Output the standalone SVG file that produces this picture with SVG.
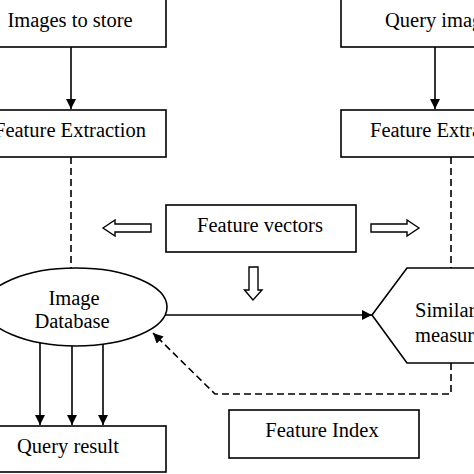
<svg xmlns="http://www.w3.org/2000/svg" width="474" height="474" viewBox="0 0 474 474">
<style>
.box{fill:#fff;stroke:#000;stroke-width:1.6}
.t{font-family:"Liberation Serif","Times New Roman",serif;font-size:20.5px;fill:#000}
.m{text-anchor:middle}
.ln{fill:none;stroke:#000;stroke-width:1.6}
.dash{fill:none;stroke:#000;stroke-width:1.6;stroke-dasharray:7 4}
.hollow{fill:#fff;stroke:#000;stroke-width:1.4;stroke-linejoin:miter}
</style>
<defs>
<marker id="ah" viewBox="0 0 10 10" refX="10" refY="5" markerWidth="10" markerHeight="10" markerUnits="userSpaceOnUse" orient="auto">
<path d="M0,0 L10,5 L0,10 Z" fill="#000"/>
</marker>
</defs>
<rect width="474" height="474" fill="#fff"/>
<g id="connectors">
<line class="ln" x1="71" y1="47" x2="71" y2="109" marker-end="url(#ah)"/>
<line class="ln" x1="435" y1="47" x2="435" y2="109" marker-end="url(#ah)"/>
<line class="dash" x1="71" y1="157" x2="71" y2="268"/>
<line class="dash" x1="451" y1="157" x2="451" y2="268"/>
<line class="ln" x1="165" y1="315" x2="372" y2="315" marker-end="url(#ah)"/>
<line class="ln" x1="40" y1="343" x2="40" y2="425" marker-end="url(#ah)"/>
<line class="ln" x1="72" y1="346" x2="72" y2="425" marker-end="url(#ah)"/>
<line class="ln" x1="103" y1="344" x2="103" y2="425" marker-end="url(#ah)"/>
<polyline class="dash" points="451,363 451,394 215,394 153,333" marker-end="url(#ah)"/>
<path class="hollow" d="M103,228 L115,220 L115,224 L151,224 L151,232 L115,232 L115,236 Z"/>
<path class="hollow" d="M419,228 L407,220 L407,224 L371,224 L371,232 L407,232 L407,236 Z"/>
<path class="hollow" d="M253,300 L244.5,290 L249,290 L249,267 L258,267 L258,290 L262,290 Z"/>
</g>
<g id="images-to-store">
<rect class="box" x="-30" y="-10" width="196" height="57"/>
<text class="t m" x="70" y="27">Images to store</text>
</g>
<g id="query-image">
<rect class="box" x="341" y="-10" width="200" height="57"/>
<text class="t" x="385" y="27">Query image</text>
</g>
<g id="feature-extraction-left">
<rect class="box" x="-30" y="110" width="196" height="47"/>
<text class="t m" x="70" y="137">Feature Extraction</text>
</g>
<g id="feature-extraction-right">
<rect class="box" x="341" y="110" width="200" height="47"/>
<text class="t" x="370" y="137">Feature Extraction</text>
</g>
<g id="feature-vectors">
<rect class="box" x="166" y="205" width="190" height="47"/>
<text class="t m" x="260" y="232">Feature vectors</text>
</g>
<g id="image-database">
<ellipse class="box" cx="76" cy="307" rx="91" ry="39"/>
<text class="t m" x="74" y="305">Image</text>
<text class="t m" x="72" y="328">Database</text>
</g>
<g id="similarity-measure">
<polygon class="box" points="372,315 407,268 490,268 490,363 407,363"/>
<text class="t" x="415" y="317">Similarity</text>
<text class="t" x="415" y="342">measure</text>
</g>
<g id="query-result">
<rect class="box" x="-30" y="426" width="196" height="46"/>
<text class="t m" x="68" y="453">Query result</text>
</g>
<g id="feature-index">
<rect class="box" x="229" y="410" width="190" height="48"/>
<text class="t m" x="322" y="437">Feature Index</text>
</g>
</svg>
